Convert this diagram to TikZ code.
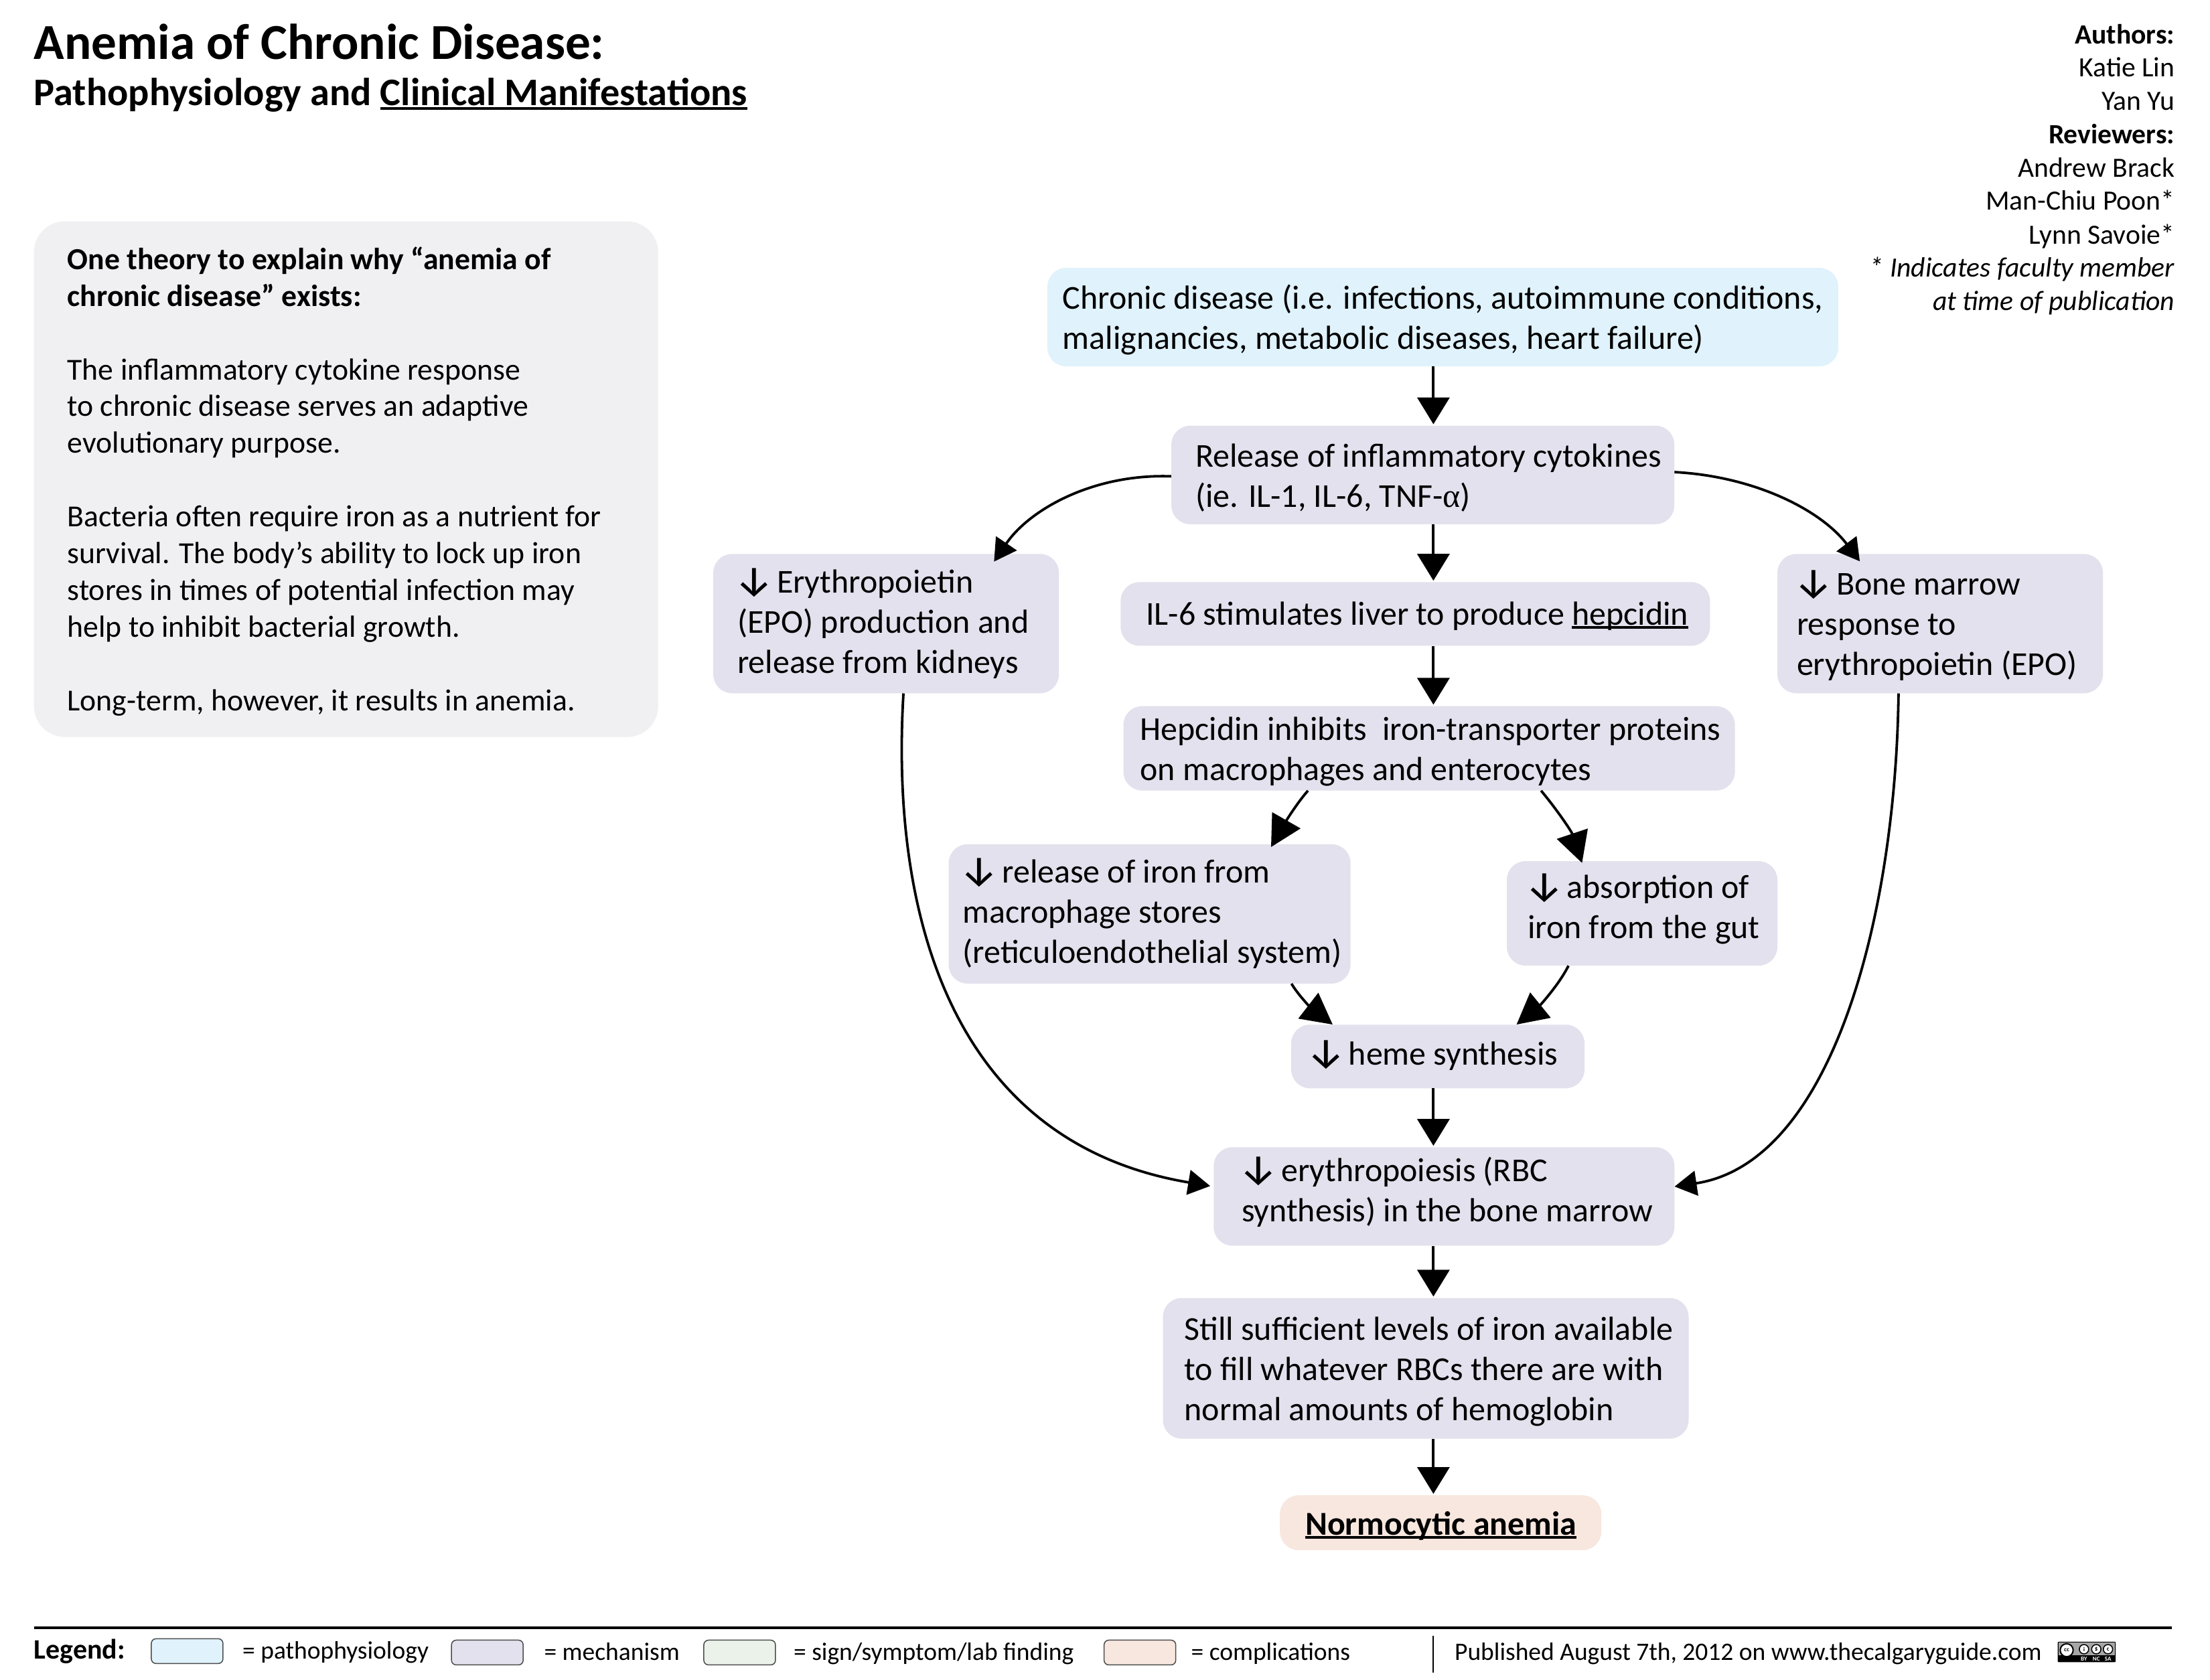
\documentclass[tikz,border=0pt]{standalone}
\usepackage{fontspec}
\setmainfont{Carlito}
\newfontfamily\arrowfont{Fira Sans}
\newfontfamily\greekfont{Liberation Serif}
\usetikzlibrary{arrows.meta}
\definecolor{pathoc}{HTML}{E0F2FB}
\definecolor{mechc}{HTML}{E2E1ED}
\definecolor{signc}{HTML}{EAF2E9}
\definecolor{compc}{HTML}{F7E7DF}
\definecolor{panelc}{HTML}{F0F0F2}
\newcommand{\ulx}[1]{\setbox0\hbox{#1}\rlap{\rule[-0.11em]{\wd0}{0.07em}}\box0}
\newcommand{\dn}{\kern-4pt\smash{\raisebox{-4pt}{\arrowfont\fontsize{64}{64}\selectfont ↓}}\kern-6pt}
% width, left padding, raise, lines
\newcommand{\tb}[4]{\makebox[#1pt][l]{\hspace*{#2pt}\raisebox{#3pt}[0pt][0pt]{\begin{tabular}{@{}l@{}}#4\end{tabular}}}}
\newcommand{\bodyfont}{\fontsize{49.9}{60}\selectfont}
\tikzset{
  box/.style={rounded corners=28pt,inner sep=0pt,anchor=north west,font=\bodyfont},
  mech/.style={box,fill=mechc},
  big/.style={-{Triangle[width=48pt,length=40pt]},line width=3.8pt,shorten >=2pt},
  slant/.style={-{Triangle[width=48pt,length=46pt]},line width=3.8pt},
  small/.style={-{Triangle[width=37pt,length=33pt]},line width=3.8pt},
  leg/.style={rounded corners=7pt,draw=black!70,line width=1.5pt,anchor=north west,inner sep=0pt},
  legtxt/.style={anchor=base west,font=\fontsize{37.5}{44}\selectfont,inner sep=0pt},
  auth/.style={anchor=base east,font=\fontsize{41.6}{50}\selectfont,inner sep=0pt},
  ccmark/.style={inner sep=0pt,font=\fontsize{9}{9}\selectfont\bfseries},
  cclabel/.style={inner sep=0pt,text=white,font=\fontsize{9}{9}\selectfont\bfseries}
}
\begin{document}
\begin{tikzpicture}[x=2.1046pt,y=-2.1046pt]
\useasboundingbox (0,0) rectangle (1568,1192.1);
\fill[white] (0,0) rectangle (1568,1192.1);
\coordinate (axis) at (1017,0);
% titles
\node[anchor=base west,inner sep=0pt,font=\fontsize{75.2}{80}\selectfont\bfseries] (title) at (24,42) {Anemia of Chronic Disease:};
\node[anchor=base west,inner sep=0pt,font=\fontsize{58.3}{64}\selectfont\bfseries] (subtitle) at (24,75) {Pathophysiology and \ulx{Clinical Manifestations}};
% authors
\node[auth,font=\fontsize{41.6}{50}\selectfont\bfseries] (a1) at (1543,31) {Authors:};
\node[auth] (a2) at (1543,54.5) {Katie Lin};
\node[auth] (a3) at (1543,78) {Yan Yu};
\node[auth,font=\fontsize{41.6}{50}\selectfont\bfseries] (a4) at (1543,102) {Reviewers:};
\node[auth] (a5) at (1543,125.5) {Andrew Brack};
\node[auth] (a6) at (1543,149) {Man-Chiu Poon*};
\node[auth] (a7) at (1543,173) {Lynn Savoie*};
\node[auth,font=\fontsize{41.6}{50}\selectfont\itshape] (a8) at (1543,196.5) {* Indicates faculty member};
\node[auth,font=\fontsize{41.6}{50}\selectfont\itshape] (a9) at (1543,220) {at time of publication};
% panel
\node[box,fill=panelc,rounded corners=46pt,minimum width=932pt,minimum height=770pt,font=\fontsize{45.7}{54.9}\selectfont] (panel) at (24,157) {\tb{932}{50}{-11.4}{\textbf{One theory to explain why “anemia of}\\\textbf{chronic disease” exists:}\\ \\The inflammatory cytokine response\\to chronic disease serves an adaptive\\evolutionary purpose.\\ \\Bacteria often require iron as a nutrient for\\survival. The body’s ability to lock up iron\\stores in times of potential infection may\\help to inhibit bacterial growth.\\ \\Long-term, however, it results in anemia.}};
% boxes
\node[box,fill=pathoc,minimum width=1181pt,minimum height=147pt] (chronic) at (743,190) {\tb{1181}{23}{-12.5}{Chronic disease (i.e. infections, autoimmune conditions,\\malignancies, metabolic diseases, heart failure)}};
\node[mech,minimum width=751pt,minimum height=147pt] (cyto) at (831,302) {\tb{751}{36}{-12.5}{Release of inflammatory cytokines\\(ie. IL-1, IL-6, TNF-{\greekfont α})}};
\node[mech,minimum width=516pt,minimum height=208pt] (epo) at (506,393) {\tb{516}{36}{-8.3}{\dn\ Erythropoietin\\(EPO) production and\\release from kidneys}};
\node[mech,minimum width=880pt,minimum height=95pt] (il6) at (795,413) {\tb{880}{38}{-10.5}{IL-6 stimulates liver to produce \ulx{hepcidin}}};
\node[mech,minimum width=486pt,minimum height=208pt] (bone) at (1261,393) {\tb{486}{29}{-11.5}{\dn\ Bone marrow\\response to\\erythropoietin (EPO)}};
\node[mech,minimum width=913pt,minimum height=126pt] (inh) at (797,501) {\tb{913}{25}{-12.5}{Hepcidin inhibits\ \ iron-transporter proteins\\on macrophages and enterocytes}};
\node[mech,minimum width=600pt,minimum height=208pt] (rel) at (673,599) {\tb{600}{21}{-8.3}{\dn\ release of iron from\\macrophage stores\\(reticuloendothelial system)}};
\node[mech,minimum width=404pt,minimum height=156pt] (abs) at (1069,611) {\tb{404}{31}{-2}{\dn\ absorption of\\iron from the gut}};
\node[mech,minimum width=438pt,minimum height=95pt] (heme) at (916,727) {\tb{438}{27}{-7.2}{\dn\ heme synthesis}};
\node[mech,minimum width=688pt,minimum height=147pt] (ery) at (861,814) {\tb{688}{42}{-2}{\dn\ erythropoiesis (RBC\\synthesis) in the bone marrow}};
\node[mech,minimum width=785pt,minimum height=210pt] (still) at (825,921) {\tb{785}{32}{-12.5}{Still sufficient levels of iron available\\to fill whatever RBCs there are with\\normal amounts of hemoglobin}};
\node[box,fill=compc,minimum width=480pt,minimum height=82pt,font=\bodyfont\bfseries] (normo) at (908,1061) {\tb{480}{38}{-12.5}{\ulx{Normocytic anemia}}};
% straight connectors
\draw[big] (chronic.south -| axis) -- (cyto.north -| axis);
\draw[big] (cyto.south -| axis) -- (il6.north -| axis);
\draw[big] (il6.south -| axis) -- (inh.north -| axis);
\draw[big] (heme.south -| axis) -- (ery.north -| axis);
\draw[big] (ery.south -| axis) -- (still.north -| axis);
\draw[big] (still.south -| axis) -- (normo.north -| axis);
% curved connectors
\draw[small,shorten >=-14pt] (cyto.west |- 0,338) .. controls (775,336) and (730,362) .. (epo.north -| 709,0);
\draw[small,shorten >=-14pt] (cyto.east |- 0,335) .. controls (1245,338) and (1292,362) .. (bone.north -| 1315.5,0);
\draw[small,shorten >=5pt] (epo.south -| 641,0) .. controls (632,640) and (670,810) .. (ery.west |- 0,842);
\draw[small] (bone.south -| 1347,0) .. controls (1345,650) and (1300,825) .. (ery.east |- 0,842);
\draw[slant,shorten >=-5pt] (inh.south -| 928,0) .. controls (920,570) and (911,585) .. (rel.north -| 903,0);
\draw[slant,shorten >=-3pt] (inh.south -| 1093.4,0) .. controls (1105,575) and (1115,590) .. (abs.north -| 1122,0);
\draw[slant] (rel.south -| 916.3,0) .. controls (921,706) and (930,715) .. (heme.north -| 945.5,0);
\draw[slant] (abs.south -| 1112.8,0) .. controls (1106,699) and (1092,714) .. (heme.north -| 1076,0);
% footer
\coordinate (rule1) at (24,1155);
\coordinate (rule2) at (1541,1155);
\draw[line width=4pt] (rule1) -- (rule2);
\node[anchor=base west,inner sep=0pt,font=\fontsize{42}{44}\selectfont\bfseries] (legend) at (24,1177) {Legend:};
\node[leg,fill=pathoc,minimum width=107pt,minimum height=37pt] (l1) at (107,1162.5) {};
\node[legtxt] (t1) at (172,1177) {= pathophysiology};
\node[leg,fill=mechc,minimum width=107pt,minimum height=37pt] (l2) at (320,1163.5) {};
\node[legtxt] (t2) at (386,1178) {= mechanism};
\node[leg,fill=signc,minimum width=107pt,minimum height=37pt] (l3) at (499,1163.5) {};
\node[legtxt] (t3) at (563,1178) {= sign/symptom/lab finding};
\node[leg,fill=compc,minimum width=107pt,minimum height=37pt] (l4) at (783,1163.5) {};
\node[legtxt] (t4) at (845,1178) {= complications};
\coordinate (sep1) at (1017,1161);
\coordinate (sep2) at (1017,1187);
\draw[line width=2.2pt] (sep1) -- (sep2);
\node[legtxt] (pub) at (1032,1178) {Published August 7th, 2012 on www.thecalgaryguide.com};
% licence badge
\fill[black,rounded corners=1pt] (1460,1165) rectangle (1501,1179.5);
\fill[black!35] (1460.6,1165.6) rectangle (1500.4,1174.6);
\draw[line width=2pt,fill=white] (1466.3,1171) circle (4.6);
\node[ccmark] (cc) at (1466.3,1171) {cc};
\draw[line width=1.5pt,fill=white] (1478.6,1170.3) circle (3.3);
\node[ccmark] (by) at (1478.6,1170.3) {i};
\draw[line width=1.5pt,fill=white] (1487.3,1170.3) circle (3.3);
\node[ccmark] (nc) at (1487.3,1170.3) {\$};
\draw[line width=1.5pt,fill=white] (1495.6,1170.3) circle (3.3);
\node[ccmark] (sa) at (1495.6,1170.3) {c};
\node[cclabel] (lby) at (1478.6,1177) {BY};
\node[cclabel] (lnc) at (1487.3,1177) {NC};
\node[cclabel] (lsa) at (1495.6,1177) {SA};
\end{tikzpicture}
\end{document}
